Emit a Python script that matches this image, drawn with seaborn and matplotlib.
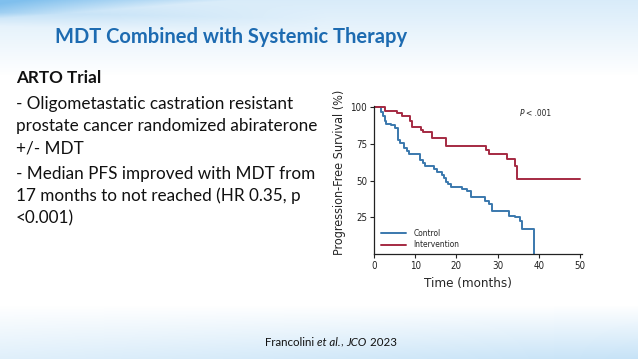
import numpy as np
import pandas as pd
import matplotlib.pyplot as plt
import seaborn as sns

# Kaplan-Meier step values
control_months = [0, 1.8, 2.2, 2.6, 3.0, 4.2, 5.0, 5.8, 6.3, 7.3, 7.9, 8.6, 11.2, 11.8, 12.3,
                  14.6, 15.4, 16.4, 17.0, 17.6, 18.0, 18.6, 19.4, 21.3, 22.5, 23.6, 27.0,
                  27.9, 28.7, 32.7, 34.3, 35.5, 35.9, 38.9]
control_pfs = [100, 97, 94, 91, 89, 88, 86, 78, 76, 72, 70, 68, 64, 62, 60,
               58, 56, 54, 52, 49, 47.7, 46, 45.5, 44.4, 42.8, 38.7, 36.5,
               34.2, 29.2, 26, 25, 22.7, 17, 0]
interv_months = [0, 2.6, 5.5, 6.7, 8.7, 9.3, 11.5, 12.0, 14.1, 17.5, 27.3, 28.0, 32.4,
                 34.2, 34.6, 50]
interv_pfs = [100, 97.5, 96, 94.5, 91, 86.5, 84.5, 83, 79.5, 74, 71, 68, 64.5,
              60, 51.5, 51.5]

bullets = ["- Oligometastatic castration resistant",
           "prostate cancer randomized abiraterone",
           "+/- MDT",
           "- Median PFS improved with MDT from",
           "17 months to not reached (HR 0.35, p",
           "<0.001)"]

df = pd.concat([
    pd.DataFrame({"Time": control_months, "PFS": control_pfs, "Arm": "Control"}),
    pd.DataFrame({"Time": interv_months, "PFS": interv_pfs, "Arm": "Intervention"}),
])

sns.set_style("white")
plt.rcParams['font.family'] = ['Lato', 'DejaVu Sans']

fig = plt.figure(figsize=(6.38, 3.59), dpi=100)

# slide background: blue swoosh top-left, light wash at top and along the bottom
bg = fig.add_axes([0, 0, 1, 1])
h, w = 359, 638
yy, xx = np.mgrid[0:h, 0:w]
wash = np.clip(1 - yy / 75, 0, 1) * 0.3
swoosh = np.clip(1 - (yy / 18 + xx / 230), 0, 1) * 0.75
band = np.clip(1 - np.abs(yy - 12 - xx * 0.02) / 14, 0, 1) * np.clip(1 - xx / 330, 0, 1) * 0.25
bottom = np.clip((yy - 305) / 54, 0, 1) * (0.25 + 0.2 * xx / w)
a = np.clip(wash + swoosh + band + bottom, 0, 1)
tint = np.array([0.50, 0.75, 0.93])
img = (1 - a[..., None]) + tint * a[..., None]
bg.imshow(img, aspect='auto', extent=[0, 1, 0, 1], origin='upper')
bg.set_xlim(0, 1)
bg.set_ylim(0, 1)
bg.axis('off')

fig.text(55 / 638, 1 - 37 / 359, "MDT Combined with Systemic Therapy", fontsize=14.5,
         fontweight='bold', color='#1d6bb1', va='center', ha='left')
fig.text(16 / 638, 1 - 78 / 359, "ARTO Trial", fontsize=12.3, fontweight='bold',
         color='#111111', va='center', ha='left')
line_y = [104, 126, 149, 174, 196, 218]
for txt, y in zip(bullets, line_y):
    fig.text(16 / 638, 1 - y / 359, txt, fontsize=12.3, color='#111111',
             va='center', ha='left')

# citation with italic parts, each placed right after the previous one
parts = [("Francolini ", 'normal'), ("et al.", 'italic'), (", ", 'normal'),
         ("JCO", 'italic'), (" 2023", 'normal')]
prev = bg.text(265 / 638, 1 - 342 / 359, parts[0][0], fontsize=8.3, color='#111111',
               va='center', ha='left')
for txt, st in parts[1:]:
    prev = bg.annotate(txt, xy=(1, 0), xycoords=prev, fontsize=8.3, color='#111111',
                       style=st, va='bottom', ha='left', annotation_clip=False)

# Kaplan-Meier panel
narrow = dict(family='DejaVu Sans', stretch='condensed')
ax = fig.add_axes([374 / 638, 1 - 254 / 359, 208 / 638, 148 / 359])
ax.set_facecolor('none')
sns.lineplot(data=df, x="Time", y="PFS", hue="Arm", estimator=None, sort=False,
             drawstyle='steps-post', palette={"Control": "#3a78ad", "Intervention": "#a52a42"},
             linewidth=1.4, ax=ax)
ax.set_xlim(0, 50.5)
ax.set_ylim(0, 101)
ax.set_xticks([0, 10, 20, 30, 40, 50])
ax.set_yticks([25, 50, 75, 100])
ax.tick_params(axis='both', length=3, width=0.8, labelsize=7, pad=2,
               direction='out', bottom=True, left=True, colors='#222222')
for lab in ax.get_xticklabels() + ax.get_yticklabels():
    lab.set_fontstretch('condensed')
    lab.set_family('DejaVu Sans')
for s in ['top', 'right']:
    ax.spines[s].set_visible(False)
for s in ['left', 'bottom']:
    ax.spines[s].set_color('#222222')
    ax.spines[s].set_linewidth(0.9)
ax.set_xlabel("Time (months)", fontsize=9.5, labelpad=4, x=0.45, **narrow)
ax.set_ylabel("Progression-Free Survival (%)", fontsize=9, labelpad=3, y=0.55, **narrow)
ax.text(35.5, 96, "P", fontsize=6, style='italic', va='center', **narrow)
ax.text(37.0, 96, "< .001", fontsize=6, va='center', **narrow)
ax.legend(loc='lower left', bbox_to_anchor=(0.0, -0.02), frameon=False,
          handlelength=3, prop={'family': 'DejaVu Sans', 'stretch': 'condensed', 'size': 6},
          labelspacing=0.3)

fig.savefig("out.png", dpi=100)
